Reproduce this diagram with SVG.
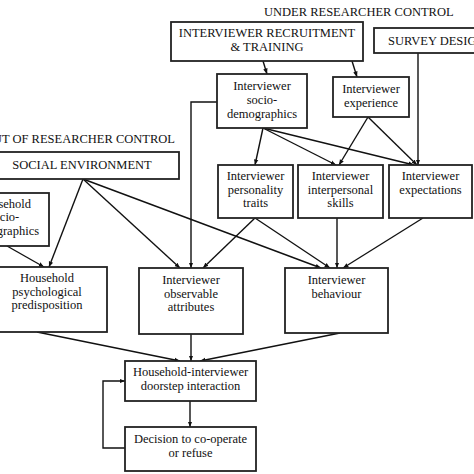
<svg xmlns="http://www.w3.org/2000/svg" width="474" height="474" viewBox="0 0 474 474">
<defs>
<marker id="ah" markerUnits="userSpaceOnUse" markerWidth="7" markerHeight="7" viewBox="0 0 7 7" refX="5.5" refY="3.5" orient="auto">
<path d="M0,1.3 L5.5,3.5 L0,5.7 Z" fill="#111"/>
</marker>
<style>
.box{fill:#fff;stroke:#222;stroke-width:1.8}
.t{font-family:"Liberation Serif","Times New Roman",serif;font-size:12.5px;fill:#111;text-anchor:middle}
.h{font-family:"Liberation Serif","Times New Roman",serif;font-size:12.5px;fill:#111}
.c{fill:none;stroke:#111;stroke-width:1.4;marker-end:url(#ah)}
</style>
</defs>
<rect width="474" height="474" fill="#fff"/>
<text class="h" x="264" y="16">UNDER RESEARCHER CONTROL</text>
<text class="h" x="175" y="143" text-anchor="end">OUT OF RESEARCHER CONTROL</text>

<g id="connectors">
<line class="c" x1="263" y1="61" x2="267" y2="74"/>
<line class="c" x1="352" y1="61" x2="357" y2="77"/>
<line class="c" x1="418" y1="53" x2="418" y2="165"/>
<line class="c" x1="263" y1="128" x2="255" y2="165"/>
<line class="c" x1="263" y1="128" x2="336" y2="165"/>
<line class="c" x1="263" y1="128" x2="414" y2="165"/>
<line class="c" x1="368" y1="117" x2="339" y2="165"/>
<line class="c" x1="368" y1="117" x2="417" y2="165"/>
<polyline class="c" points="217,102 191,102 191,268"/>
<line class="c" x1="83" y1="179" x2="49" y2="267"/>
<line class="c" x1="83" y1="179" x2="180" y2="268"/>
<line class="c" x1="83" y1="179" x2="321" y2="268"/>
<line class="c" x1="7" y1="246" x2="44" y2="267"/>
<line class="c" x1="255" y1="218" x2="203" y2="268"/>
<line class="c" x1="255" y1="218" x2="330" y2="268"/>
<line class="c" x1="337" y1="218" x2="337" y2="268"/>
<line class="c" x1="423" y1="218" x2="343" y2="268"/>
<line class="c" x1="37" y1="332" x2="180" y2="361"/>
<line class="c" x1="191" y1="334" x2="191" y2="361"/>
<line class="c" x1="340" y1="333" x2="200" y2="361"/>
<line class="c" x1="190" y1="401" x2="190" y2="427"/>
<polyline class="c" points="125,448 103,448 103,381 125,381"/>
</g>

<g id="recruitment">
<rect class="box" x="171" y="22" width="192" height="39"/>
<text class="t" x="267" y="37">INTERVIEWER RECRUITMENT</text>
<text class="t" x="267" y="51">&amp; TRAINING</text>
</g>
<g id="survey-design">
<rect class="box" x="374" y="28" width="130" height="25"/>
<text class="h" x="388" y="45">SURVEY DESIGN</text>
</g>
<g id="socio">
<rect class="box" x="217" y="74" width="90" height="54"/>
<text class="t" x="262" y="90">Interviewer</text>
<text class="t" x="262" y="104">socio-</text>
<text class="t" x="262" y="118">demographics</text>
</g>
<g id="experience">
<rect class="box" x="333" y="77" width="76" height="40"/>
<text class="t" x="371" y="93">Interviewer</text>
<text class="t" x="371" y="107">experience</text>
</g>
<g id="social-environment">
<rect class="box" x="-15" y="152" width="194" height="27"/>
<text class="t" x="82" y="169">SOCIAL ENVIRONMENT</text>
</g>
<g id="household-socio">
<rect class="box" x="-41" y="193" width="90" height="53"/>
<text class="t" x="4" y="208">Household</text>
<text class="t" x="4" y="221">socio-</text>
<text class="t" x="4" y="235">demographics</text>
</g>
<g id="personality">
<rect class="box" x="218" y="165" width="75" height="53"/>
<text class="t" x="255.5" y="180">Interviewer</text>
<text class="t" x="255.5" y="194">personality</text>
<text class="t" x="255.5" y="207">traits</text>
</g>
<g id="interpersonal">
<rect class="box" x="298" y="165" width="85" height="53"/>
<text class="t" x="340.5" y="180">Interviewer</text>
<text class="t" x="340.5" y="194">interpersonal</text>
<text class="t" x="340.5" y="207">skills</text>
</g>
<g id="expectations">
<rect class="box" x="389" y="165" width="83" height="53"/>
<text class="t" x="430.5" y="180">Interviewer</text>
<text class="t" x="430.5" y="194">expectations</text>
</g>
<g id="psychological">
<rect class="box" x="-13" y="267" width="120" height="65"/>
<text class="t" x="47" y="282">Household</text>
<text class="t" x="47" y="296">psychological</text>
<text class="t" x="47" y="309">predisposition</text>
</g>
<g id="observable">
<rect class="box" x="139" y="268" width="104" height="66"/>
<text class="t" x="191" y="284">Interviewer</text>
<text class="t" x="191" y="298">observable</text>
<text class="t" x="191" y="311">attributes</text>
</g>
<g id="behaviour">
<rect class="box" x="285" y="268" width="103" height="65"/>
<text class="t" x="336.5" y="284">Interviewer</text>
<text class="t" x="336.5" y="298">behaviour</text>
</g>
<g id="doorstep">
<rect class="box" x="125" y="361" width="131" height="40"/>
<text class="t" x="190.5" y="376">Household-interviewer</text>
<text class="t" x="190.5" y="390">doorstep interaction</text>
</g>
<g id="decision">
<rect class="box" x="125" y="427" width="131" height="44"/>
<text class="t" x="190.5" y="443">Decision to co-operate</text>
<text class="t" x="190.5" y="457">or refuse</text>
</g>
</svg>
